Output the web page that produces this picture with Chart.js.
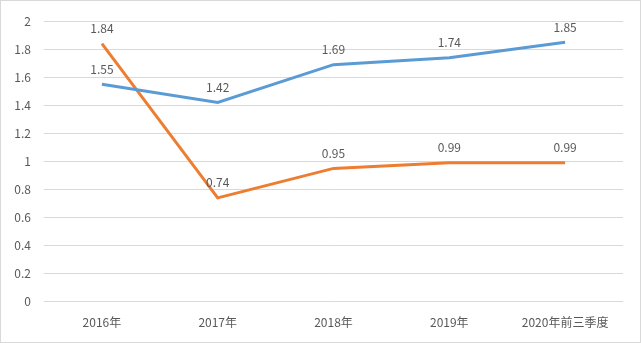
<!DOCTYPE html>
<html>
<head>
<meta charset="utf-8">
<script src="https://cdn.jsdelivr.net/npm/chart.js@4"></script>
<style>
  html, body { margin: 0; padding: 0; background: #fff; }
  #wrap { width: 639px; height: 341px; border: 1px solid #d9d9d9; }
</style>
</head>
<body>
<div id="wrap"><canvas id="myChart" width="639" height="341"></canvas></div>
<script>
const categories = ["2016年", "2017年", "2018年", "2019年", "2020年前三季度"];
const blueValues = [1.55, 1.42, 1.69, 1.74, 1.85];
const orangeValues = [1.84, 0.74, 0.95, 0.99, 0.99];
const yTicks = [0, 0.2, 0.4, 0.6, 0.8, 1, 1.2, 1.4, 1.6, 1.8, 2];

const fontFamily = '"Noto Sans CJK SC", "Open Sans", sans-serif';

// simple data label plugin, draws value above each point
const valueLabels = {
  id: "valueLabels",
  afterDatasetsDraw(chart) {
    const c = chart.ctx;
    c.save();
    c.font = "12px " + fontFamily;
    c.fillStyle = "#595959";
    c.textAlign = "center";
    c.textBaseline = "bottom";
    chart.data.datasets.forEach((ds, i) => {
      chart.getDatasetMeta(i).data.forEach((pt, j) => {
        c.fillText(ds.data[j].toFixed(2), pt.x, pt.y - 9);
      });
    });
    c.restore();
  },
};

new Chart(document.getElementById("myChart"), {
  type: "line",
  data: {
    labels: categories,
    datasets: [
      {
        data: blueValues,
        borderColor: "#5b9bd5",
        borderWidth: 3,
        pointRadius: 0,
        tension: 0,
      },
      {
        data: orangeValues,
        borderColor: "#ed7d31",
        borderWidth: 3,
        pointRadius: 0,
        tension: 0,
      },
    ],
  },
  options: {
    responsive: false,
    animation: false,
    layout: { padding: { top: 8, right: 17, bottom: 6, left: 0 } },
    plugins: {
      legend: { display: false },
      tooltip: { enabled: false },
    },
    scales: {
      x: {
        offset: true,
        grid: { display: false },
        border: { display: false },
        ticks: { color: "#595959", padding: 6, font: { family: fontFamily, size: 12 }, maxRotation: 0 },
      },
      y: {
        min: 0,
        max: 2,
        afterBuildTicks: (axis) => {
          axis.ticks = yTicks.map((v) => ({ value: v }));
        },
        afterFit: (axis) => {
          axis.width = 43;
        },
        grid: { color: "#d9d9d9", drawTicks: false },
        border: { display: false },
        ticks: {
          color: "#595959",
          padding: 13,
          font: { family: fontFamily, size: 12 },
          callback: (v) => String(Math.round(v * 10) / 10),
        },
      },
    },
  },
  plugins: [valueLabels],
});
</script>
</body>
</html>
